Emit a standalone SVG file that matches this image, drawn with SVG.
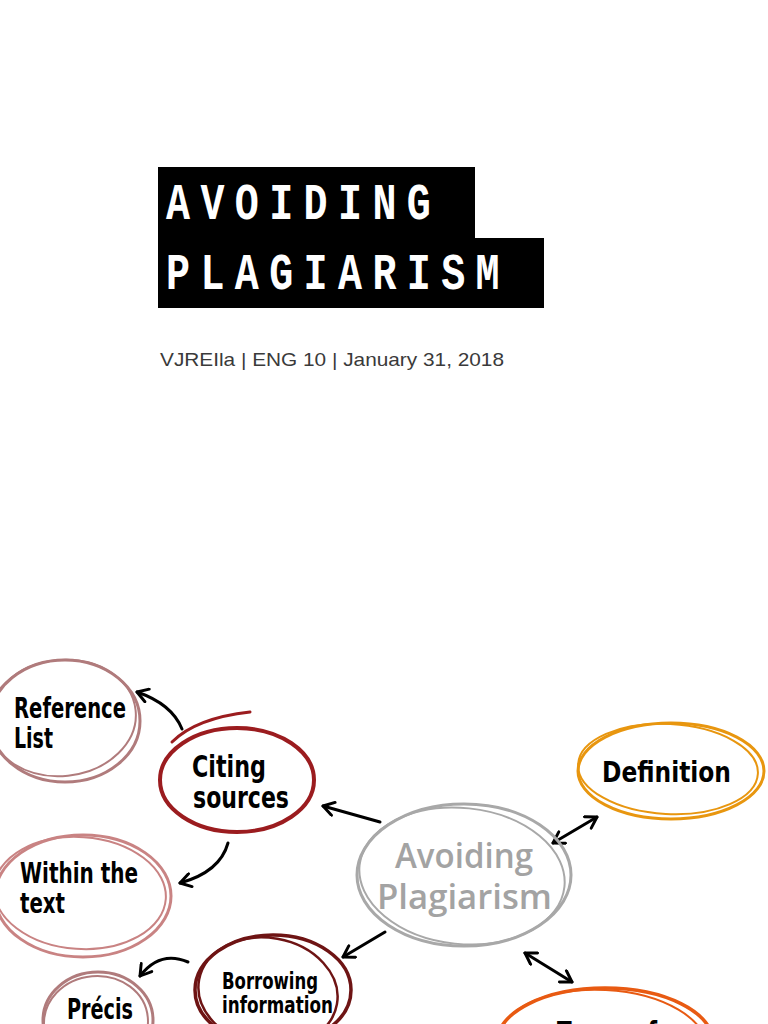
<svg xmlns="http://www.w3.org/2000/svg" width="768" height="1024" viewBox="0 0 768 1024">
<defs>
<style>
.lbl{font-family:"DejaVu Sans Condensed","Liberation Sans",sans-serif;font-weight:bold;fill:#000;}
.ring{fill:none;stroke-linecap:round;}
.conn{fill:none;stroke:#000;stroke-width:3;stroke-linecap:round;}
.ttl{font-family:"Liberation Mono",monospace;font-weight:bold;font-size:40px;letter-spacing:10.4px;fill:#fff;}
</style>
<marker id="ah" viewBox="0 0 12 12" refX="10" refY="6" markerWidth="16" markerHeight="16" markerUnits="userSpaceOnUse" orient="auto-start-reverse">
<path d="M2,1 L10,6 L2,11" fill="none" stroke="#000" stroke-width="2.2" stroke-linecap="round" stroke-linejoin="round"/>
</marker>
</defs>
<rect width="768" height="1024" fill="#fff"/>

<g id="title">
<polygon points="158,167 475,167 475,238 544,238 544,308 158,308" fill="#000"/>
<text class="ttl" transform="translate(166 219) scale(1 1.3)" x="0" y="0">AVOIDING</text>
<text class="ttl" transform="translate(166 289) scale(1 1.3)" x="0" y="0">PLAGIARISM</text>
</g>
<g id="subtitle">
<text x="160" y="366" font-family="'Liberation Sans', sans-serif" font-size="19" fill="#3a3a3a" textLength="344" lengthAdjust="spacingAndGlyphs">VJREIla | ENG 10 | January 31, 2018</text>
</g>

<g id="connectors">
<path class="conn" d="M182,729 Q172,704 137,692" marker-end="url(#ah)"/>
<path class="conn" d="M380,822 L323,806" stroke-width="4" marker-end="url(#ah)"/>
<path class="conn" d="M228,843 Q220,872 180,883" marker-end="url(#ah)"/>
<path class="conn" d="M385,932 L343,957" marker-end="url(#ah)"/>
<path class="conn" d="M188,962 Q160,950 140,976" marker-end="url(#ah)"/>
<path class="conn" d="M553,843 L597,817" marker-start="url(#ah)" marker-end="url(#ah)"/>
<path class="conn" d="M525,953 L572,982" marker-start="url(#ah)" marker-end="url(#ah)"/>
</g>

<g id="node-reference-list">
<ellipse class="ring" cx="65" cy="721" rx="75" ry="61" stroke="#b07b7c" stroke-width="3"/>
<ellipse class="ring" cx="62" cy="718" rx="74" ry="58" stroke="#b07b7c" stroke-width="2" transform="rotate(-6 62 718)"/>
<text class="lbl" x="14" y="718" font-size="28" textLength="112" lengthAdjust="spacingAndGlyphs">Reference</text>
<text class="lbl" x="14" y="748" font-size="28" textLength="39" lengthAdjust="spacingAndGlyphs">List</text>
</g>

<g id="node-citing-sources">
<ellipse class="ring" cx="237" cy="780" rx="77" ry="52" stroke="#9b1c1f" stroke-width="4"/>
<path class="ring" d="M172,742 Q196,718 250,712" stroke="#9b1c1f" stroke-width="3"/>
<text class="lbl" x="192" y="777" font-size="31" textLength="74" lengthAdjust="spacingAndGlyphs">Citing</text>
<text class="lbl" x="193" y="808" font-size="31" textLength="96" lengthAdjust="spacingAndGlyphs">sources</text>
</g>

<g id="node-within-the-text">
<ellipse class="ring" cx="83" cy="896" rx="88" ry="61" stroke="#c98383" stroke-width="3"/>
<ellipse class="ring" cx="80" cy="893" rx="86" ry="56" stroke="#c98383" stroke-width="2" transform="rotate(4 80 893)"/>
<text class="lbl" x="20" y="883" font-size="28" textLength="118" lengthAdjust="spacingAndGlyphs">Within the</text>
<text class="lbl" x="20" y="913" font-size="28" textLength="45" lengthAdjust="spacingAndGlyphs">text</text>
</g>

<g id="node-borrowing-information">
<ellipse class="ring" cx="273" cy="990" rx="78" ry="55" stroke="#6e1414" stroke-width="3.5"/>
<ellipse class="ring" cx="268" cy="992" rx="70" ry="54" stroke="#6e1414" stroke-width="2.5" transform="rotate(10 268 992)"/>
<text class="lbl" x="222" y="989" font-size="23" textLength="96" lengthAdjust="spacingAndGlyphs">Borrowing</text>
<text class="lbl" x="222" y="1013" font-size="23" textLength="111" lengthAdjust="spacingAndGlyphs">information</text>
</g>

<g id="node-precis">
<ellipse class="ring" cx="98" cy="1020" rx="55" ry="48" stroke="#b07b7c" stroke-width="3"/>
<ellipse class="ring" cx="96" cy="1022" rx="52" ry="46" stroke="#b07b7c" stroke-width="2" transform="rotate(-5 96 1022)"/>
<text class="lbl" x="67" y="1019" font-size="28" textLength="66" lengthAdjust="spacingAndGlyphs">Précis</text>
</g>

<g id="node-avoiding-plagiarism">
<ellipse class="ring" cx="464" cy="875" rx="107" ry="71" stroke="#a8a8a8" stroke-width="3"/>
<ellipse class="ring" cx="462" cy="876" rx="103" ry="68" stroke="#a8a8a8" stroke-width="2" transform="rotate(6 462 876)"/>
<text x="395" y="868" font-family="'Open Sans','Liberation Sans',sans-serif" font-weight="600" font-size="34" fill="#a3a3a3" textLength="138" lengthAdjust="spacingAndGlyphs">Avoiding</text>
<text x="377" y="909" font-family="'Open Sans','Liberation Sans',sans-serif" font-weight="600" font-size="34" fill="#a3a3a3" textLength="175" lengthAdjust="spacingAndGlyphs">Plagiarism</text>
</g>

<g id="node-definition">
<ellipse class="ring" cx="671" cy="771" rx="93" ry="48" stroke="#e8960f" stroke-width="3"/>
<ellipse class="ring" cx="668" cy="769" rx="90" ry="45" stroke="#e8960f" stroke-width="2" transform="rotate(3 668 769)"/>
<text class="lbl" x="602" y="782" font-size="28" textLength="129" lengthAdjust="spacingAndGlyphs">Definition</text>
</g>

<g id="node-types">
<ellipse class="ring" cx="605" cy="1042" rx="108" ry="54" stroke="#e85a12" stroke-width="3.5"/>
<ellipse class="ring" cx="603" cy="1044" rx="104" ry="54" stroke="#e85a12" stroke-width="2" transform="rotate(3 603 1044)"/>
<text class="lbl" x="557" y="1043" font-size="30" textLength="100" lengthAdjust="spacingAndGlyphs">Types of</text>
</g>
</svg>
